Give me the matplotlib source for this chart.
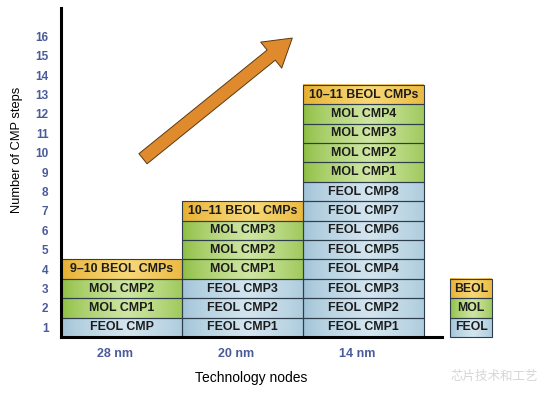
import numpy as np
import matplotlib.pyplot as plt
from matplotlib.patches import FancyArrowPatch, ArrowStyle, Rectangle

plt.rcParams['font.family'] = ['Liberation Sans', 'Noto Sans CJK SC', 'DejaVu Sans']

# data
nodes = ['28 nm', '20 nm', '14 nm']
labels_28 = ['FEOL CMP', 'MOL CMP1', 'MOL CMP2', '9\u201310 BEOL CMPs']
types_28 = ['FEOL', 'MOL', 'MOL', 'BEOL']
labels_20 = ['FEOL CMP1', 'FEOL CMP2', 'FEOL CMP3', 'MOL CMP1', 'MOL CMP2', 'MOL CMP3',
             '10\u201311 BEOL CMPs']
types_20 = ['FEOL'] * 3 + ['MOL'] * 3 + ['BEOL']
labels_14 = ['FEOL CMP1', 'FEOL CMP2', 'FEOL CMP3', 'FEOL CMP4', 'FEOL CMP5', 'FEOL CMP6',
             'FEOL CMP7', 'FEOL CMP8', 'MOL CMP1', 'MOL CMP2', 'MOL CMP3', 'MOL CMP4',
             '10\u201311 BEOL CMPs']
types_14 = ['FEOL'] * 8 + ['MOL'] * 4 + ['BEOL']
legend_types = ['FEOL', 'MOL', 'BEOL']
ytick_labels = [str(i) for i in range(1, 17)]

# (edge colour, centre colour) for the horizontal gradient
colors = {'FEOL': ('#9fc2d6', '#d3e5ef'),
          'MOL': ('#8cbd3f', '#cfe6a3'),
          'BEOL': ('#e6ad2c', '#f7d877')}

fig = plt.figure(figsize=(5.52, 3.99), dpi=100)
ax = fig.add_axes([61 / 552, 1 - 337 / 399, (442 - 61) / 552, (337 - 8) / 399])
ax.set_xlim(0, 3.15)
ax.set_ylim(0, 16.96)


def cell(x0, x1, y0, typ, text=None, fs=8.9):
    c_edge = np.array(plt.matplotlib.colors.to_rgb(colors[typ][0]))
    c_mid = np.array(plt.matplotlib.colors.to_rgb(colors[typ][1]))
    t = np.linspace(0, 1, 64)
    w = 1 - np.abs(t - 0.55) / 0.55
    w = np.clip(w, 0, 1) ** 0.7
    img = c_edge[None, :] * (1 - w[:, None]) + c_mid[None, :] * w[:, None]
    ax.imshow(img[None, :, :], extent=(x0, x1, y0, y0 + 1), aspect='auto',
              interpolation='bilinear', zorder=1, clip_on=False)
    ax.add_patch(Rectangle((x0, y0), x1 - x0, 1, fill=False, edgecolor='#2e3d4c',
                           lw=0.8, zorder=2, clip_on=False))
    if text:
        ax.text((x0 + x1) / 2, y0 + 0.5, text, ha='center', va='center', fontsize=fs,
                fontweight='bold', color='#1c1c1c', zorder=3)


for i, (labs, typs) in enumerate([(labels_28, types_28), (labels_20, types_20),
                                  (labels_14, types_14)]):
    for j, (lab, typ) in enumerate(zip(labs, typs)):
        cell(i, i + 1, j, typ, lab)

for j, typ in enumerate(legend_types):
    cell(3.22, 3.56, j, typ, typ, fs=8.8)

ax.set_xlim(0, 3.15)
ax.set_ylim(0, 16.96)

# arrow
style = ArrowStyle('Simple', head_length=1.5, head_width=1.85, tail_width=0.72)
arr = FancyArrowPatch((0.66, 9.1), (1.93, 15.5), arrowstyle=style, mutation_scale=13,
                      facecolor='#e08a2e', edgecolor='#5a3a10', lw=0.7, zorder=4)
ax.add_patch(arr)

for s in ['top', 'right']:
    ax.spines[s].set_visible(False)
for s in ['left', 'bottom']:
    ax.spines[s].set_linewidth(2.2)
    ax.spines[s].set_zorder(5)

ax.set_yticks(np.arange(16) + 0.5)
ax.set_yticklabels(ytick_labels)
ax.set_xticks(np.arange(3) + 0.45)
ax.set_xticklabels(nodes)
ax.tick_params(length=0, labelcolor='#4a5b9a', labelsize=8.5)
ax.tick_params(axis='x', labelsize=9)
ax.tick_params(axis='y', pad=9)
ax.tick_params(axis='x', pad=8)
for lab in ax.get_xticklabels() + ax.get_yticklabels():
    lab.set_fontweight('bold')

ax.set_ylabel('Number of CMP steps', fontsize=9.3)
ax.yaxis.set_label_coords(-0.10, 0.568)
ax.set_xlabel('Technology nodes', fontsize=10, labelpad=8)

fig.text(0.895, 0.055, '芯片技术和工艺', fontsize=9, color='#d6d6d6', ha='center', va='center')

fig.savefig('out.png', dpi=100)
